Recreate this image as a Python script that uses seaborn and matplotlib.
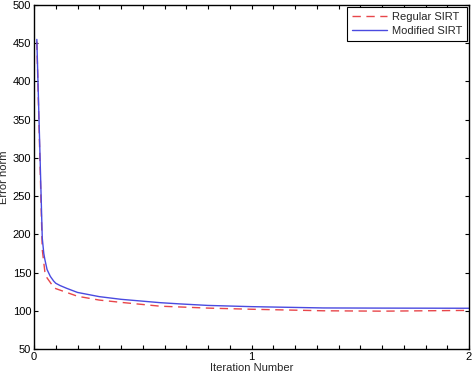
import matplotlib
matplotlib.use("Agg")
import matplotlib.pyplot as plt
import seaborn as sns
import numpy as np
import pandas as pd
from matplotlib.ticker import MultipleLocator

# data
iteration = [0.013, 0.038, 0.045, 0.05, 0.06, 0.075, 0.09, 0.1, 0.12, 0.15, 0.2, 0.3, 0.4,
             0.58, 0.67, 0.8, 1.0, 1.33, 1.6, 2.0]
regular_sirt = [452, 180, 163, 151, 143, 137, 131, 129, 127, 124, 119, 114, 111,
                106, 105, 103.5, 102, 100, 99.5, 100.5]
modified_sirt = [455, 195, 175, 167, 154, 145, 139, 136, 133, 129.4, 124, 118.5, 115,
                 110.6, 109, 107, 105.4, 103.7, 103.5, 103.3]
series_names = ["Regular SIRT", "Modified SIRT"]
x_ticklabels = ["0", "1", "2"]

sns.set_theme(style="ticks")
plt.rcParams['font.family'] = ['Liberation Sans', 'DejaVu Sans']

df = pd.DataFrame({
    "x": iteration * 2,
    "y": regular_sirt + modified_sirt,
    "series": [series_names[0]] * len(iteration) + [series_names[1]] * len(iteration),
})

fig = plt.figure(figsize=(4.74, 3.73), dpi=100)
ax = fig.add_axes([34/474, 1 - 349/373, (469 - 34)/474, (349 - 5)/373])

sns.lineplot(data=df, x="x", y="y", hue="series", style="series",
             palette={series_names[0]: "#e8464a", series_names[1]: "#4a4ae0"},
             dashes={series_names[0]: (6, 4), series_names[1]: ""},
             linewidth=1.0, ax=ax, legend=True)

ax.set_xlim(0, 2)
ax.set_ylim(50, 500)
ticks = np.round(np.arange(0, 2.0001, 0.1), 2)
ax.set_xticks(ticks)
ax.set_xticklabels([x_ticklabels[int(t)] if abs(t - round(t)) < 1e-9 else "" for t in ticks])
ax.yaxis.set_major_locator(MultipleLocator(50))

for s in ax.spines.values():
    s.set_visible(True)
    s.set_linewidth(1.0)
    s.set_color("black")
ax.tick_params(direction="in", top=True, right=True, length=3, width=0.8,
               labelsize=8, pad=2, colors="black")

ax.set_xlabel("Iteration Number", fontsize=8, labelpad=1)
ax.set_ylabel("Error norm", fontsize=8, labelpad=2)
ax.yaxis.set_label_coords(-0.058, 0.5)

leg = ax.legend(loc="upper right", fontsize=8, frameon=True, fancybox=False,
                edgecolor="black", framealpha=1, handlelength=3.2,
                borderpad=0.45, labelspacing=0.35, borderaxespad=0.2, handletextpad=0.4)
leg.get_frame().set_linewidth(0.8)

fig.savefig("out.png", dpi=100)
